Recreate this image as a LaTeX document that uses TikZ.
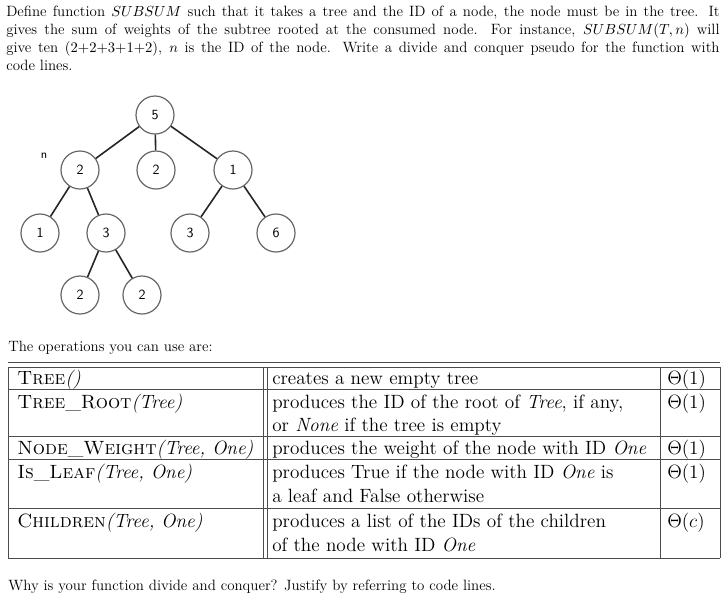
\documentclass[tikz,border=0pt]{standalone}
\begin{document}
\begin{tikzpicture}[x=0.75pt,y=-0.75pt,
  tn/.style={circle,draw=black!60,line width=0.9pt,minimum size=28.5pt,inner sep=0pt,font=\sffamily\fontsize{10.5}{11}\selectfont},
  edge/.style={line width=1.2pt,black!85},
  para/.style={anchor=base west,inner sep=0pt,font=\fontsize{11.2}{13}\selectfont},
  tb/.style={anchor=base west,inner sep=0pt,font=\fontsize{14.4}{16}\selectfont},
  rule/.style={line width=0.5pt,black!70}]
\useasboundingbox (0,0) rectangle (728,601);
\node[para] (l1) at (6,16) {\makebox[535pt][s]{Define function $SUBSUM$ such that it takes a tree and the ID of a node, the node must be in the tree. It}};
\node[para] (l2) at (6,34) {\makebox[535pt][s]{gives the sum of weights of the subtree rooted at the consumed node. For instance, $SUBSUM(T,n)$ will}};
\node[para] (l3) at (6,52) {\makebox[535pt][s]{give ten $(2{+}2{+}3{+}1{+}2)$, $n$ is the ID of the node. Write a divide and conquer pseudo for the function with}};
\node[para] (l4) at (6,70) {code lines.};
% tree
\node[tn] (r) at (155,115) {5};
\node[tn] (a) at (80,170) {2};
\node[tn] (b) at (156,170) {2};
\node[tn] (c) at (233,170) {1};
\node[tn] (d) at (40,233) {1};
\node[tn] (e) at (106,233) {3};
\node[tn] (f) at (190,233) {3};
\node[tn] (g) at (276,233) {6};
\node[tn] (h) at (80,295) {2};
\node[tn] (i) at (142,295) {2};
\node[font=\sffamily\fontsize{9}{9}\selectfont,inner sep=0pt] (nl) at (44,156) {n};
\foreach \u/\v in {r/a,r/b,r/c,a/d,a/e,c/f,c/g,e/h,e/i} \draw[edge] (\u) -- (\v);
\node[para] (ops) at (8,351) {The operations you can use are:};
% table
\draw[rule] (8,362) -- (720,362);
\draw[rule] (8,367) -- (720,367);
\foreach \yy in {389,436,459,508,558} \draw[rule] (8,\yy) -- (720,\yy);
\draw[rule] (8,367) -- (8,558);
\draw[rule] (263,367) -- (263,558);
\draw[rule] (267,367) -- (267,558);
\draw[rule] (660,367) -- (660,558);
\draw[rule] (720,367) -- (720,558);
\node[tb] (t1) at (17,384) {\textsc{Tree}\textit{()}};
\node[tb] (t2) at (17,408) {\textsc{Tree\_Root}\textit{(Tree)}};
\node[tb] (t3) at (17,454) {\textsc{Node\_Weight}\textit{(Tree, One)}};
\node[tb] (t4) at (17,478) {\textsc{Is\_Leaf}\textit{(Tree, One)}};
\node[tb] (t5) at (17,527) {\textsc{Children}\textit{(Tree, One)}};
\node[tb] (d1) at (272,384) {creates a new empty tree};
\node[tb] (d2) at (272,408) {produces the ID of the root of \textit{Tree}, if any,};
\node[tb] (d2b) at (272,431) {or \textit{None} if the tree is empty};
\node[tb] (d3) at (272,454) {produces the weight of the node with ID \textit{One}};
\node[tb] (d4) at (272,478) {produces True if the node with ID \textit{One} is};
\node[tb] (d4b) at (272,502) {a leaf and False otherwise};
\node[tb] (d5) at (272,527) {produces a list of the IDs of the children};
\node[tb] (d5b) at (272,551) {of the node with ID \textit{One}};
\node[tb] (c1) at (667,384) {$\Theta(1)$};
\node[tb] (c2) at (667,408) {$\Theta(1)$};
\node[tb] (c3) at (667,454) {$\Theta(1)$};
\node[tb] (c4) at (667,478) {$\Theta(1)$};
\node[tb] (c5) at (667,527) {$\Theta(c)$};
\node[para] (why) at (8,590) {Why is your function divide and conquer? Justify by referring to code lines.};
\end{tikzpicture}
\end{document}
